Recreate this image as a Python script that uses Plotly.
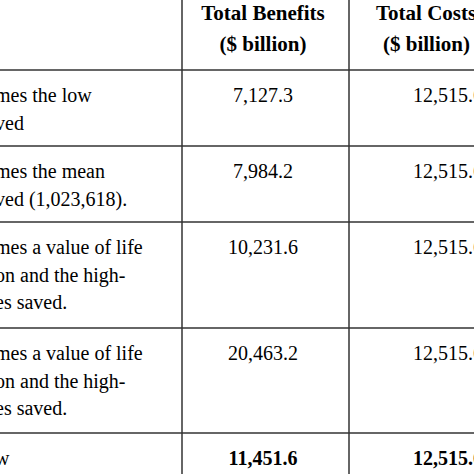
import plotly.graph_objects as go

# table content (cropped view of a larger table)
header_lines = ["Total Benefits", "($ billion)"]
header2_lines = ["Total Costs", "($ billion)"]
row_labels = [
    ["mes the low", "ved"],
    ["mes the mean", "ved (1,023,618)."],
    ["mes a value of life", "on and the high-", "es saved."],
    ["mes a value of life", "on and the high-", "es saved."],
    ["w"],
]
benefits = ["7,127.3", "7,984.2", "10,231.6", "20,463.2", "11,451.6"]
costs = ["12,515.6", "12,515.6", "12,515.6", "12,515.6", "12,515.6"]

row_tops = [70, 146, 222, 328, 433]
line_gap = 27.5
col_lines = [182, 349]
font = "Liberation Serif"

fig = go.Figure()

# header
fig.add_trace(go.Scatter(x=[263, 263], y=[15, 46], mode="text",
                         text=["<b>%s</b>" % t for t in header_lines],
                         textfont=dict(family=font, size=21, color="black"), textposition="middle center"))
fig.add_trace(go.Scatter(x=[376, 383], y=[15, 46], mode="text",
                         text=["<b>%s</b>" % t for t in header2_lines],
                         textfont=dict(family=font, size=21, color="black"), textposition="middle right"))

for i, lines in enumerate(row_labels):
    y0 = row_tops[i] + 27
    bold = i == len(row_labels) - 1
    fs = "<b>%s</b>" if bold else "%s"
    ys = [y0 + k * line_gap for k in range(len(lines))]
    fig.add_trace(go.Scatter(x=[-5] * len(lines), y=ys, mode="text", text=lines,
                             textfont=dict(family=font, size=20, color="black"), textposition="middle right"))
    fig.add_trace(go.Scatter(x=[263], y=[y0], mode="text", text=[fs % benefits[i]],
                             textfont=dict(family=font, size=20, color="black"), textposition="middle center"))
    fig.add_trace(go.Scatter(x=[413], y=[y0], mode="text", text=[fs % costs[i]],
                             textfont=dict(family=font, size=20, color="black"), textposition="middle right"))

for y in row_tops:
    fig.add_shape(type="line", x0=-10, x1=480, y0=y, y1=y, line=dict(color="#333", width=1.5))
for x in col_lines:
    fig.add_shape(type="line", x0=x, x1=x, y0=-10, y1=480, line=dict(color="#333", width=1.5))

fig.update_layout(
    width=474, height=474, margin=dict(l=0, r=0, t=0, b=0),
    plot_bgcolor="white", paper_bgcolor="white", showlegend=False,
    xaxis=dict(range=[0, 474], visible=False, fixedrange=True),
    yaxis=dict(range=[474, 0], visible=False, fixedrange=True),
)

fig.write_html("out.html", config={"displayModeBar": False},
               post_script="document.body.style.margin='0';document.body.style.overflow='hidden';")
